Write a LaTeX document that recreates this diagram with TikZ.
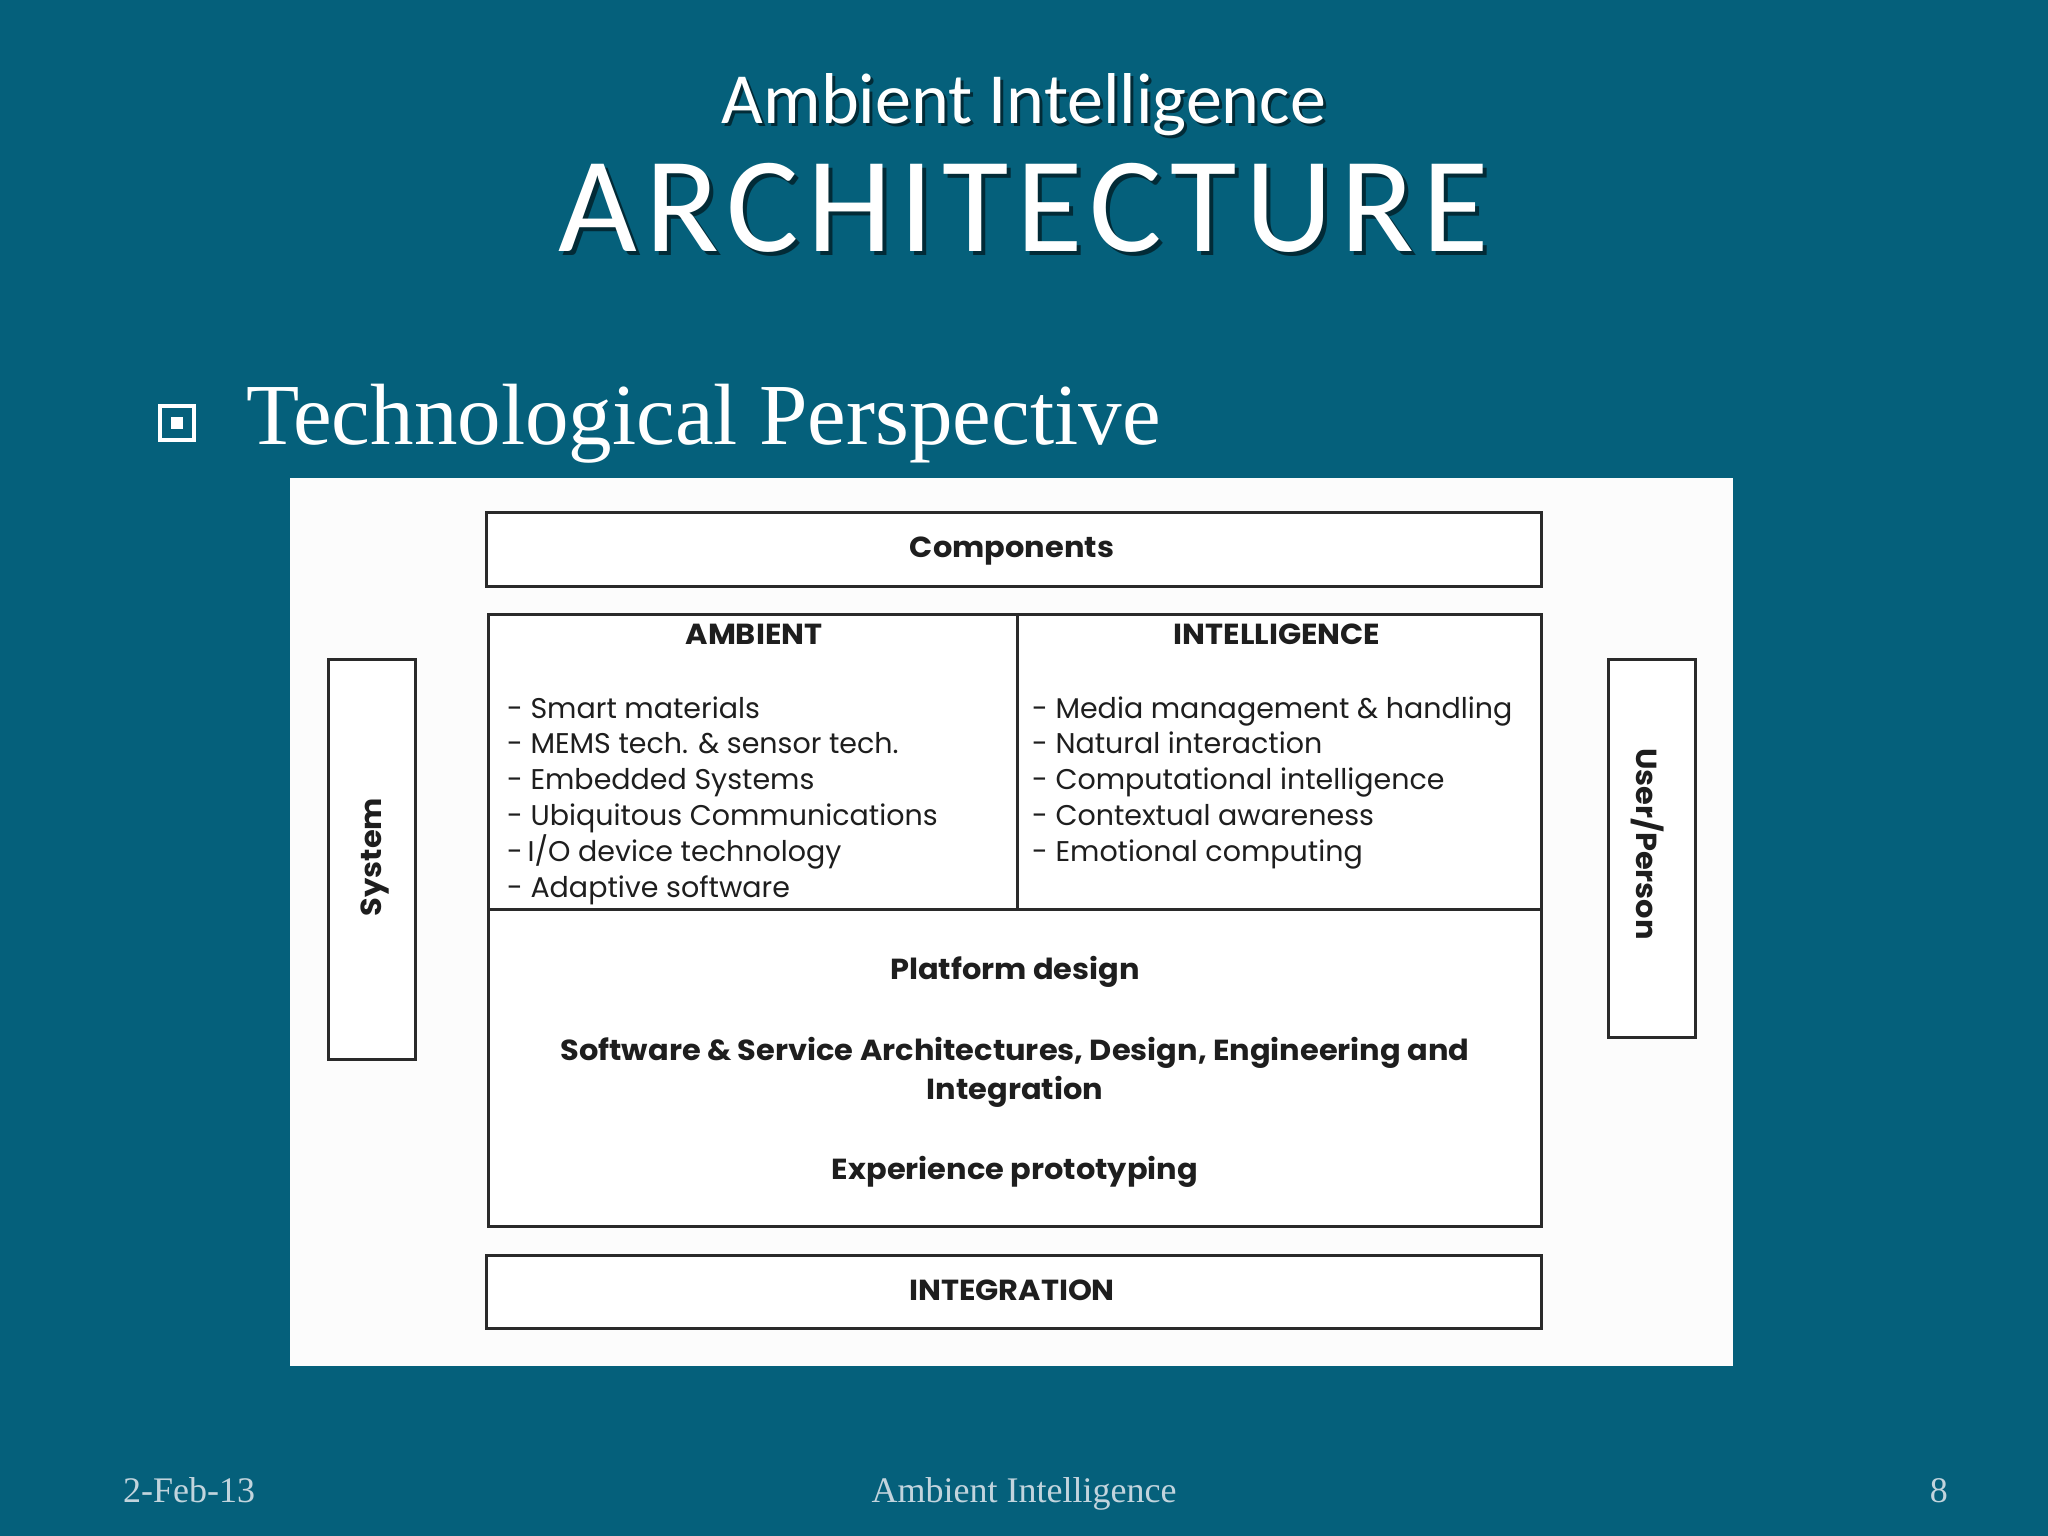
\documentclass[tikz,border=0pt]{standalone}
\usepackage{fontspec}
\setmainfont{Liberation Serif}
\newfontfamily\titlefont{Carlito}
\newfontfamily\titlefontsp[LetterSpace=6]{Carlito}
\newfontfamily\gfont[FakeStretch=1.0]{Poppins}
\newfontfamily\gbfont[FakeStretch=1.05]{Poppins}
\definecolor{bg}{HTML}{05607B}
\definecolor{foot}{HTML}{C2D4DD}
\definecolor{linec}{HTML}{2A2A2A}
\definecolor{txt}{HTML}{1E1E1E}
\tikzset{
  box/.style={draw=linec, line width=2.6pt, fill=white, inner sep=0pt, anchor=north west},
  item/.style={anchor=base west, inner sep=0pt, text=txt, font=\gfont\fontsize{28.5}{34}\selectfont},
  head/.style={anchor=base, inner sep=0pt, text=txt, font=\gbfont\bfseries\fontsize{29}{34}\selectfont},
  footer/.style={inner sep=0pt, text=foot, font=\fontsize{36}{40}\selectfont},
}
\begin{document}
\begin{tikzpicture}[x=1pt,y=-1pt]
\useasboundingbox (0,0) rectangle (2048,1536);
\fill[bg] (0,0) rectangle (2048,1536);
% title
\node[anchor=base, inner sep=0pt, text=black, opacity=0.55, font=\titlefont\fontsize{72}{80}\selectfont] at (1027,127) {Ambient Intelligence};
\node[anchor=base, inner sep=0pt, text=white, font=\titlefont\fontsize{72}{80}\selectfont] (t1) at (1024,124) {Ambient Intelligence};
\node[anchor=base, inner sep=0pt, text=black, opacity=0.55, font=\titlefontsp\fontsize{136}{140}\selectfont] at (1028,255) {ARCHITECTURE};
\node[anchor=base, inner sep=0pt, text=white, font=\titlefontsp\fontsize{136}{140}\selectfont] (t2) at (1024,251) {ARCHITECTURE};
% bullet
\draw[white, line width=3.5pt] (160,406) rectangle (194,440);
\fill[white] (171,417) rectangle (183,429);
\node[anchor=base west, inner sep=0pt, text=white, font=\fontsize{87}{92}\selectfont] (tp) at (246,444) {Technological Perspective};
% white panel
\fill[white!99!black] (290,478) rectangle (1733,1366);
% boxes
\node[box, minimum width=1055pt, minimum height=74pt] (comp) at (485,511) {};
\node[box, minimum width=529pt, minimum height=295pt] (amb) at (487,613) {};
\node[box, minimum width=524pt, minimum height=295pt] (intl) at (1016,613) {};
\node[box, minimum width=1053pt, minimum height=317pt] (plat) at (487,908) {};
\node[box, minimum width=1055pt, minimum height=73pt] (integ) at (485,1254) {};
\node[box, minimum width=87pt, minimum height=400pt] (sys) at (327,658) {};
\node[box, minimum width=87pt, minimum height=378pt] (usr) at (1607,658) {};
% texts
\node[head] (compt) at (1012,557) {Components};
\node[head] (ambt) at (754,644) {AMBIENT};
\node[head] (intt) at (1277,644) {INTELLIGENCE};
\foreach \t [count=\i] in {- Smart materials, - MEMS tech. \& sensor tech., - Embedded Systems, - Ubiquitous Communications, -\,I/O device technology, - Adaptive software}
  \node[item] (a\i) at (507,{718+35.8*(\i-1)}) {\t};
\foreach \t [count=\i] in {- Media management \& handling, - Natural interaction, - Computational intelligence, - Contextual awareness, - Emotional computing}
  \node[item] (b\i) at (1032,{718+35.8*(\i-1)}) {\t};
\node[head] (p1) at (1015,979) {Platform design};
\node[head] (p2) at (1015,1060) {Software \& Service Architectures, Design, Engineering and};
\node[head] (p3) at (1015,1099) {Integration};
\node[head] (p4) at (1015,1179) {Experience prototyping};
\node[head] (integt) at (1012,1300) {INTEGRATION};
\node[head, anchor=center, rotate=90] (syst) at (375,857) {System};
\node[head, anchor=center, rotate=-90] (usrt) at (1648,844) {User/Person};
% footer
\node[footer, anchor=base west] (f1) at (123,1502) {2-Feb-13};
\node[footer, anchor=base] (f2) at (1024,1502) {Ambient Intelligence};
\node[footer, anchor=base east] (f3) at (1948,1502) {8};
\end{tikzpicture}
\end{document}
